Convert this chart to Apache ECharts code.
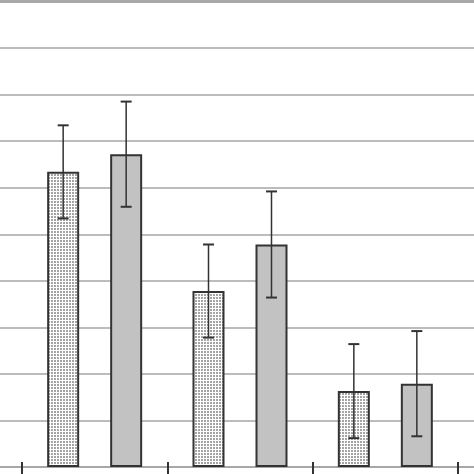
<!DOCTYPE html>
<html>
<head>
<meta charset="utf-8">
<script src="https://cdn.jsdelivr.net/npm/echarts@6/dist/echarts.min.js"></script>
<style>html,body{margin:0;padding:0;background:#fff;}#c{width:474px;height:474px;}</style>
</head>
<body>
<div id="c"></div>
<script>
// Data
var categories = ['Group 1', 'Group 2', 'Group 3'];
var dottedMeans = [6.34, 3.78, 1.63];
var dottedErr   = [1.00, 1.00, 1.01];
var grayMeans   = [6.72, 4.78, 1.79];
var grayErr     = [1.13, 1.14, 1.13];
var yTicks = [0, 1, 2, 3, 4, 5, 6, 7, 8, 9, 10];

// dotted pattern tile
var tile = document.createElement('canvas');
tile.width = 3; tile.height = 3;
var tc = tile.getContext('2d');
tc.fillStyle = '#ffffff'; tc.fillRect(0, 0, 3, 3);
tc.fillStyle = '#a4a4a4'; tc.fillRect(0, 0, 2, 2);

var BAR_W = 32, GAP = 31;
var OFFSET = (BAR_W + GAP) / 2;

function errData(means, errs) {
  var out = [];
  for (var i = 0; i < means.length; i++) {
    out.push([i, means[i] - errs[i], means[i] + errs[i]]);
  }
  return out;
}

function makeErr(shift) {
  return function (params, api) {
    var lo = api.coord([api.value(0), api.value(1)]);
    var hi = api.coord([api.value(0), api.value(2)]);
    var x = lo[0] + shift;
    var cap = 5.5;
    return {
      type: 'group',
      children: [
        {type: 'line', shape: {x1: x, y1: hi[1], x2: x, y2: lo[1]}, style: {stroke: '#333', lineWidth: 1.5}},
        {type: 'line', shape: {x1: x - cap, y1: hi[1], x2: x + cap, y2: hi[1]}, style: {stroke: '#333', lineWidth: 2}},
        {type: 'line', shape: {x1: x - cap, y1: lo[1], x2: x + cap, y2: lo[1]}, style: {stroke: '#333', lineWidth: 2}}
      ]
    };
  };
}

var yMin = yTicks[0], yMax = yTicks[yTicks.length - 1];

var chart = echarts.init(document.getElementById('c'), null, {renderer: 'canvas'});
chart.setOption({
  animation: false,
  backgroundColor: '#ffffff',
  grid: [
    {left: 0, right: 0, top: 1.5, bottom: 7, containLabel: false},
    {left: 22, right: 16, top: 1.5, bottom: 7, containLabel: false}
  ],
  xAxis: [{
    gridIndex: 0,
    type: 'value', min: 0, max: 1,
    axisLine: {show: true, onZero: false, lineStyle: {color: '#a8a8a8', width: 2}},
    axisTick: {show: false}, axisLabel: {show: false}, splitLine: {show: false}
  }, {
    gridIndex: 1,
    type: 'category',
    data: categories,
    axisLine: {show: false},
    axisTick: {show: true, length: 7, lineStyle: {color: '#333', width: 2}},
    axisLabel: {show: false},
    splitLine: {show: false}
  }, {
    gridIndex: 1,
    type: 'category',
    data: categories,
    position: 'bottom',
    axisLine: {show: false},
    axisTick: {show: true, inside: true, length: 5, lineStyle: {color: '#333', width: 2}},
    axisLabel: {show: false}
  }],
  yAxis: [{
    gridIndex: 0,
    type: 'value', min: yMin, max: yMax, interval: 1,
    axisLine: {show: false}, axisTick: {show: false}, axisLabel: {show: false},
    splitLine: {show: true, lineStyle: {color: '#bcbcbc', width: 2}}
  }, {
    gridIndex: 1,
    type: 'value', min: yMin, max: yMax, interval: 1,
    axisLine: {show: false}, axisTick: {show: false}, axisLabel: {show: false},
    splitLine: {show: false}
  }],
  series: [{
    type: 'line',
    xAxisIndex: 0, yAxisIndex: 0,
    data: [],
    markLine: {
      silent: true, symbol: 'none', label: {show: false},
      lineStyle: {color: '#a8a8a8', width: 3, type: 'solid'},
      data: [{yAxis: yMax}]
    }
  }, {
    type: 'bar',
    xAxisIndex: 1, yAxisIndex: 1,
    data: dottedMeans,
    barWidth: BAR_W,
    barGap: (GAP / BAR_W * 100) + '%',
    itemStyle: {color: {image: tile, repeat: 'repeat'}, borderColor: '#333', borderWidth: 2}
  }, {
    type: 'bar',
    xAxisIndex: 1, yAxisIndex: 1,
    data: grayMeans,
    barWidth: BAR_W,
    itemStyle: {color: '#c2c2c2', borderColor: '#333', borderWidth: 2}
  }, {
    type: 'custom',
    xAxisIndex: 1, yAxisIndex: 1,
    renderItem: makeErr(-OFFSET),
    data: errData(dottedMeans, dottedErr),
    encode: {x: 0, y: [1, 2]},
    z: 10
  }, {
    type: 'custom',
    xAxisIndex: 1, yAxisIndex: 1,
    renderItem: makeErr(OFFSET),
    data: errData(grayMeans, grayErr),
    encode: {x: 0, y: [1, 2]},
    z: 10
  }]
});
</script>
</body>
</html>
